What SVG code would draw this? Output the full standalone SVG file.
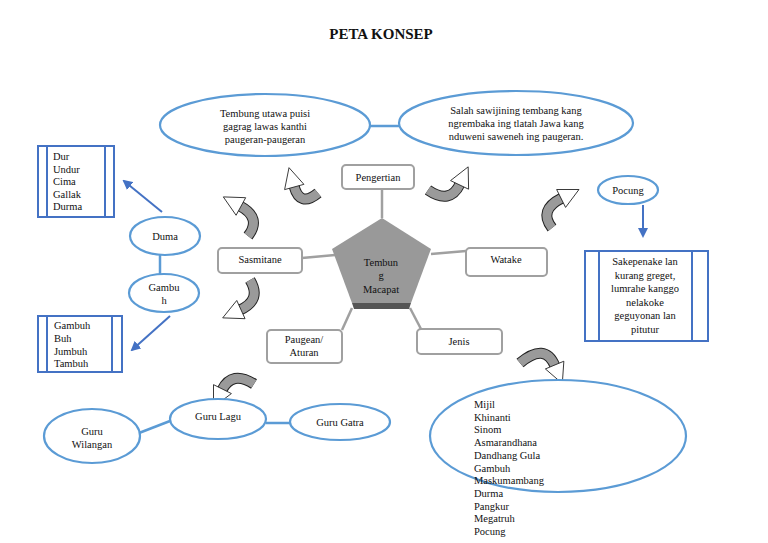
<svg xmlns="http://www.w3.org/2000/svg" width="768" height="543" viewBox="0 0 768 543">
<style>
text{font-family:"Liberation Serif","DejaVu Serif",serif;font-size:10.5px;fill:#111}
.t{font-weight:bold;font-size:15px}
.be{fill:#fff;stroke:#5b9bd5;stroke-width:2.2}
.gb{fill:#fff;stroke:#a0a0a0;stroke-width:2}
.bb{fill:#fff;stroke:#4472c4;stroke-width:2}
.bl{stroke:#4472c4;stroke-width:2}
.gl{stroke:#a0a0a0;stroke-width:2.5}
.el{stroke:#5b9bd5;stroke-width:2.5}
.co{fill:none;stroke:#222;stroke-width:11}
.ci{fill:none;stroke:#9a9a9a;stroke-width:9}
</style>
<defs>
<marker id="ba" markerWidth="10" markerHeight="10" refX="8" refY="5" orient="auto" markerUnits="userSpaceOnUse"><path d="M0,0L10,5L0,10z" fill="#4472c4"/></marker>
<marker id="wh" markerWidth="22" markerHeight="22" refX="2" refY="11" orient="auto" markerUnits="userSpaceOnUse"><path d="M1,1L21,11L1,21z" fill="#fff" stroke="#222" stroke-width="0.8"/></marker>
</defs>
<text class="t" x="381" y="39" text-anchor="middle">PETA KONSEP</text>
<g id="connectors" fill="none">
<line class="el" x1="370" y1="126" x2="400" y2="126"/>
<line class="gl" x1="382" y1="189" x2="382" y2="218"/>
<line class="gl" x1="302" y1="258" x2="335" y2="255"/>
<line class="gl" x1="431" y1="254" x2="466" y2="251"/>
<line class="gl" x1="342" y1="330" x2="352" y2="308"/>
<line class="gl" x1="421" y1="329" x2="410" y2="308"/>
<line class="el" x1="160" y1="254" x2="160" y2="275"/>
<line class="bl" x1="162" y1="212" x2="124" y2="181" marker-end="url(#ba)"/>
<line class="bl" x1="170" y1="316" x2="132" y2="350" marker-end="url(#ba)"/>
<line class="bl" x1="643" y1="205" x2="643" y2="236" marker-end="url(#ba)"/>
<line class="el" x1="139" y1="433" x2="170" y2="421"/>
<line class="el" x1="266" y1="423" x2="290" y2="423"/>
</g>
<g id="curved-arrows">
<path class="co" d="M318,193 Q300,208 294,186"/><path class="ci" d="M318,193 Q300,208 294,186"/><path d="M318,193 Q300,208 294,186" fill="none" stroke="none" marker-end="url(#wh)"/>
<path class="co" d="M428,190 Q450,205 460,184"/><path class="ci" d="M428,190 Q450,205 460,184"/><path d="M428,190 Q450,205 460,184" fill="none" stroke="none" marker-end="url(#wh)"/>
<path class="co" d="M248,236 Q262,218 240,206"/><path class="ci" d="M248,236 Q262,218 240,206"/><path d="M248,236 Q262,218 240,206" fill="none" stroke="none" marker-end="url(#wh)"/>
<path class="co" d="M250,280 Q262,300 240,310"/><path class="ci" d="M250,280 Q262,300 240,310"/><path d="M250,280 Q262,300 240,310" fill="none" stroke="none" marker-end="url(#wh)"/>
<path class="co" d="M552,228 Q538,210 562,198"/><path class="ci" d="M552,228 Q538,210 562,198"/><path d="M552,228 Q538,210 562,198" fill="none" stroke="none" marker-end="url(#wh)"/>
<path class="co" d="M254,384 Q232,370 222,390"/><path class="ci" d="M254,384 Q232,370 222,390"/><path d="M254,384 Q232,370 222,390" fill="none" stroke="none" marker-end="url(#wh)"/>
<path class="co" d="M520,363 Q545,342 555,366"/><path class="ci" d="M520,363 Q545,342 555,366"/><path d="M520,363 Q545,342 555,366" fill="none" stroke="none" marker-end="url(#wh)"/>
</g>
<g id="def1"><ellipse class="be" cx="265" cy="125" rx="105" ry="31"/>
<text x="265" y="117" text-anchor="middle">Tembung utawa puisi</text><text x="265" y="130" text-anchor="middle">gagrag lawas kanthi</text><text x="265" y="143" text-anchor="middle">paugeran-paugeran</text></g>
<g id="def2"><ellipse class="be" cx="516" cy="123" rx="117" ry="32"/>
<text x="516" y="114" text-anchor="middle">Salah sawijining tembang kang</text><text x="516" y="127" text-anchor="middle">ngrembaka ing tlatah Jawa kang</text><text x="516" y="140" text-anchor="middle">nduweni saweneh ing paugeran.</text></g>
<g id="pengertian"><rect class="gb" x="342" y="165" width="72" height="24" rx="4"/><text x="378" y="181" text-anchor="middle">Pengertian</text></g>
<g id="center"><path d="M382,218L431,249L411,303L352,303L332,249z" fill="#999"/><path d="M352,303L411,303L409,309L354,309z" fill="#555"/>
<text x="381" y="266" text-anchor="middle">Tembun</text><text x="381" y="279" text-anchor="middle">g</text><text x="381" y="293" text-anchor="middle">Macapat</text></g>
<g id="sasmitane"><rect class="gb" x="218" y="248" width="84" height="25" rx="4"/><text x="260" y="263" text-anchor="middle">Sasmitane</text></g>
<g id="watake"><rect class="gb" x="466" y="248" width="81" height="28" rx="4"/><text x="506" y="263" text-anchor="middle">Watake</text></g>
<g id="paugean"><rect class="gb" x="267" y="330" width="75" height="33" rx="4"/><text x="304" y="343" text-anchor="middle">Paugean/</text><text x="304" y="356" text-anchor="middle">Aturan</text></g>
<g id="jenis"><rect class="gb" x="417" y="329" width="85" height="25" rx="4"/><text x="459" y="345" text-anchor="middle">Jenis</text></g>
<g id="duma"><ellipse class="be" cx="165" cy="236" rx="35" ry="19"/><text x="165" y="240" text-anchor="middle">Duma</text></g>
<g id="gambuh"><ellipse class="be" cx="164" cy="293" rx="35" ry="19"/><text x="164" y="291" text-anchor="middle">Gambu</text><text x="164" y="304" text-anchor="middle">h</text></g>
<g id="durbox"><rect class="bb" x="38" y="146" width="76" height="71"/><line class="bl" x1="47" y1="146" x2="47" y2="217"/><line class="bl" x1="105" y1="146" x2="105" y2="217"/>
<text x="53" y="160">Dur</text><text x="53" y="173">Undur</text><text x="53" y="185">Cima</text><text x="53" y="198">Gallak</text><text x="53" y="210">Durma</text></g>
<g id="gambuhbox"><rect class="bb" x="38" y="316" width="84" height="56"/><line class="bl" x1="47" y1="316" x2="47" y2="372"/><line class="bl" x1="112" y1="316" x2="112" y2="372"/>
<text x="54" y="329">Gambuh</text><text x="54" y="342">Buh</text><text x="54" y="355">Jumbuh</text><text x="54" y="367">Tambuh</text></g>
<g id="pocung"><ellipse class="be" cx="628" cy="190" rx="30" ry="14"/><text x="628" y="194" text-anchor="middle">Pocung</text></g>
<g id="pocungbox"><rect class="bb" x="585" y="251" width="123" height="90"/><line class="bl" x1="599" y1="251" x2="599" y2="341"/><line class="bl" x1="692" y1="251" x2="692" y2="341"/>
<text x="645" y="265" text-anchor="middle">Sakepenake lan</text><text x="645" y="279" text-anchor="middle">kurang greget,</text><text x="645" y="292" text-anchor="middle">lumrahe kanggo</text><text x="645" y="306" text-anchor="middle">nelakoke</text><text x="645" y="319" text-anchor="middle">geguyonan lan</text><text x="645" y="333" text-anchor="middle">pitutur</text></g>
<g id="gurulagu"><ellipse class="be" cx="218" cy="419" rx="48" ry="20"/><text x="218" y="420" text-anchor="middle">Guru Lagu</text></g>
<g id="gurugatra"><ellipse class="be" cx="340" cy="422" rx="50" ry="18"/><text x="340" y="426" text-anchor="middle">Guru Gatra</text></g>
<g id="guruwilangan"><ellipse class="be" cx="92" cy="436" rx="48" ry="27"/><text x="92" y="435" text-anchor="middle">Guru</text><text x="92" y="448" text-anchor="middle">Wilangan</text></g>
<g id="jenislist"><ellipse class="be" cx="558" cy="436" rx="128" ry="56"/>
<text x="474" y="408">Mijil</text><text x="474" y="421">Khinanti</text><text x="474" y="433">Sinom</text><text x="474" y="446">Asmarandhana</text><text x="474" y="459">Dandhang Gula</text><text x="474" y="472">Gambuh</text><text x="474" y="484">Maskumambang</text><text x="474" y="497">Durma</text><text x="474" y="510">Pangkur</text><text x="474" y="522">Megatruh</text><text x="474" y="535">Pocung</text></g>
</svg>
